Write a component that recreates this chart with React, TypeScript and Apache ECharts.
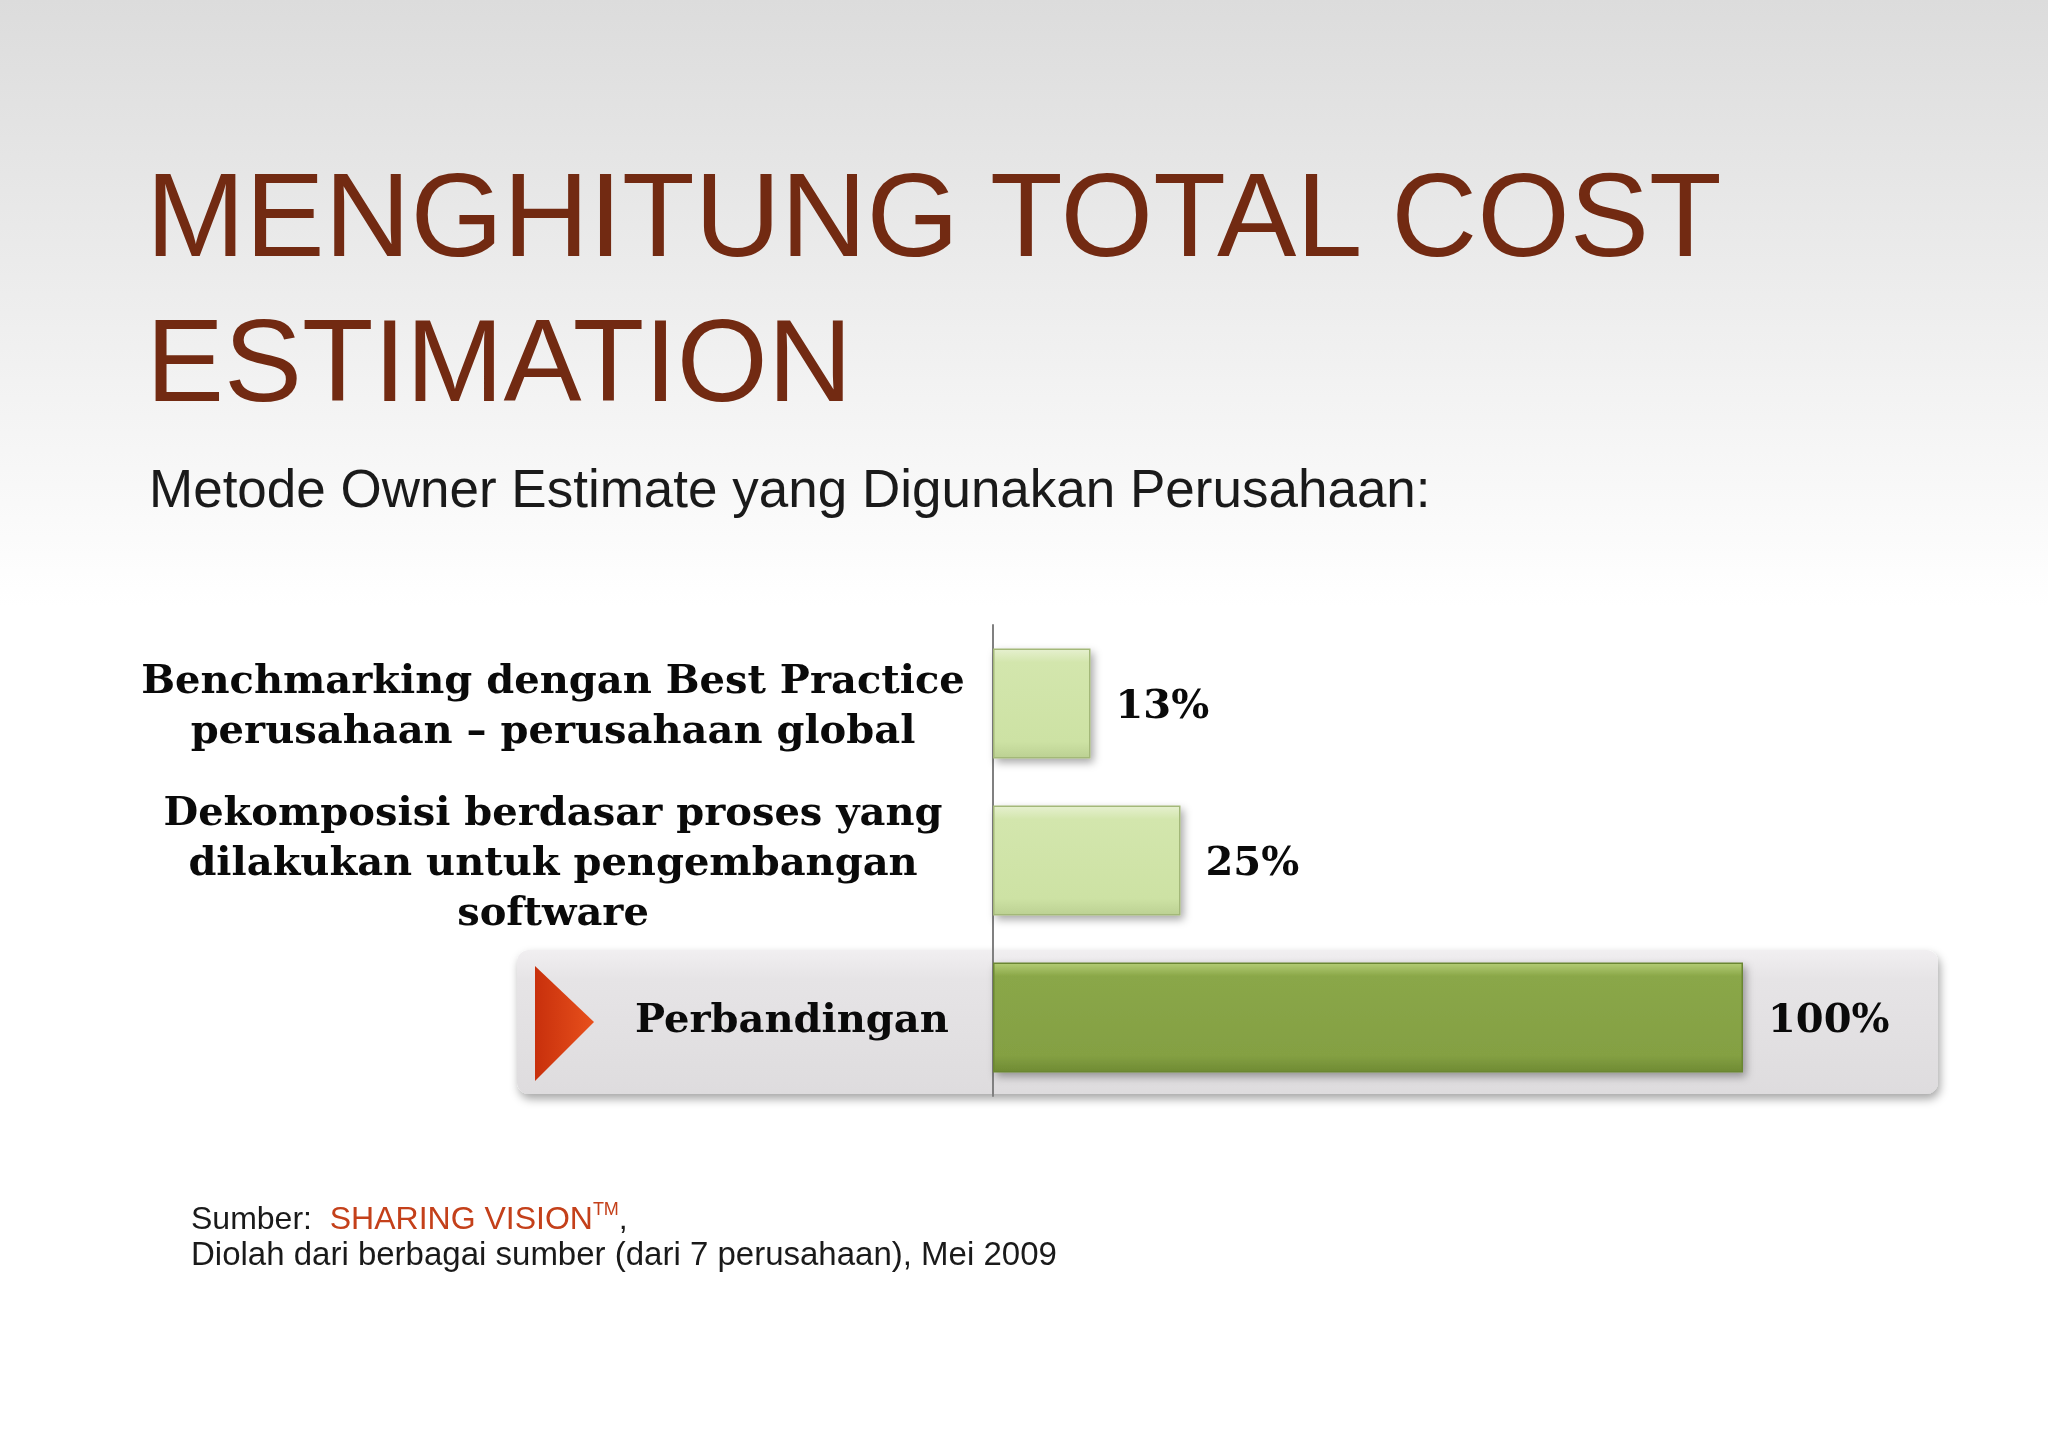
import React, { useEffect, useRef } from "react";
import * as echarts from "echarts";

const categories = [
  "Benchmarking dengan Best Practice\nperusahaan – perusahaan global",
  "Dekomposisi berdasar proses yang\ndilakukan untuk pengembangan\nsoftware",
  "Perbandingan",
];
const values = [13, 25, 100];
const highlighted = [false, false, true];
const titleLines = ["MENGHITUNG TOTAL COST", "ESTIMATION"];
const subtitle = "Metode Owner Estimate yang Digunakan Perusahaan:";
const sourceLabel = "Sumber:  ";
const sourceName = "SHARING VISION";
const sourceNote = "Diolah dari berbagai sumber (dari 7 perusahaan), Mei 2009";

const SERIF = "'DejaVu Serif', 'Liberation Serif', serif";
const SANS = "'Liberation Sans', Arial, sans-serif";

const lightFill = new echarts.graphic.LinearGradient(0, 0, 0, 1, [
  { offset: 0, color: "#e6f0cf" },
  { offset: 0.12, color: "#d3e6ad" },
  { offset: 0.85, color: "#cde2a4" },
  { offset: 1, color: "#bcd193" },
]);
const darkFill = new echarts.graphic.LinearGradient(0, 0, 0, 1, [
  { offset: 0, color: "#b3cc74" },
  { offset: 0.12, color: "#8aa748" },
  { offset: 0.85, color: "#84a043" },
  { offset: 1, color: "#6f8b33" },
]);

export default function App() {
  const ref = useRef<HTMLDivElement>(null);
  useEffect(() => {
    if (!ref.current) return;
    const chart = echarts.init(ref.current, undefined, { renderer: "svg" });
    const yData = categories.map((c, i) =>
      highlighted[i]
        ? { value: c, textStyle: { align: "left", padding: [0, 0, 0, 82] } }
        : c
    );
    const seriesData = values.map((v, i) => ({
      value: v,
      itemStyle: {
        color: highlighted[i] ? darkFill : lightFill,
        borderColor: highlighted[i] ? "#6a8630" : "#a3b879",
        borderWidth: 1.5,
        shadowBlur: 8,
        shadowOffsetX: 3,
        shadowOffsetY: 4,
        shadowColor: "rgba(0,0,0,0.35)",
      },
    }));
    chart.setOption({
      animation: false,
      grid: { left: 993, top: 625, width: 750, height: 471, containLabel: false },
      xAxis: { type: "value", min: 0, max: 100, show: false },
      yAxis: {
        type: "category",
        inverse: true,
        data: yData,
        axisLine: { show: true, lineStyle: { color: "#808080", width: 2 } },
        axisTick: { show: false },
        splitLine: { show: false },
        axisLabel: {
          margin: 440,
          align: "center",
          fontFamily: SERIF,
          fontWeight: "bold",
          fontSize: 40,
          lineHeight: 50,
          color: "#0a0a0a",
        },
      },
      series: [
        {
          type: "bar",
          data: seriesData,
          barWidth: 110,
          z: 3,
          label: {
            show: true,
            position: "right",
            distance: 25,
            formatter: "{c}%",
            fontFamily: SERIF,
            fontWeight: "bold",
            fontSize: 40,
            color: "#0a0a0a",
          },
        },
      ],
      graphic: [
        {
          type: "rect",
          z: -10,
          shape: { x: 0, y: 0, width: 2048, height: 1444 },
          style: {
            fill: new echarts.graphic.LinearGradient(0, 0, 0, 1, [
              { offset: 0, color: "#dcdcdc" },
              { offset: 0.42, color: "#ffffff" },
              { offset: 1, color: "#ffffff" },
            ]),
          },
        },
        {
          type: "rect",
          z: -5,
          shape: { x: 517, y: 950, width: 1421, height: 144, r: 12 },
          style: {
            fill: new echarts.graphic.LinearGradient(0, 0, 0, 1, [
              { offset: 0, color: "#f1eff1" },
              { offset: 0.2, color: "#e6e4e6" },
              { offset: 1, color: "#dedcde" },
            ]),
            shadowBlur: 10,
            shadowOffsetX: 2,
            shadowOffsetY: 5,
            shadowColor: "rgba(0,0,0,0.35)",
          },
        },
        {
          type: "polygon",
          z: -4,
          shape: { points: [[535, 966], [594, 1022], [535, 1081]] },
          style: {
            fill: new echarts.graphic.LinearGradient(0, 0, 1, 0, [
              { offset: 0, color: "#c8300c" },
              { offset: 1, color: "#e8501c" },
            ]),
          },
        },
        {
          type: "text",
          x: 146,
          y: 214,
          style: {
            text: titleLines[0],
            fontFamily: SANS,
            fontSize: 119,
            fill: "#722a12",
            verticalAlign: "middle",
          },
        },
        {
          type: "text",
          x: 146,
          y: 360,
          style: {
            text: titleLines[1],
            fontFamily: SANS,
            fontSize: 117,
            fill: "#722a12",
            verticalAlign: "middle",
          },
        },
        {
          type: "text",
          x: 149,
          y: 488,
          style: {
            text: subtitle,
            fontFamily: SANS,
            fontSize: 53,
            fill: "#1a1a1a",
            verticalAlign: "middle",
          },
        },
        {
          type: "text",
          x: 191,
          y: 1218,
          style: {
            text: `{a|${sourceLabel}}{b|${sourceName}}{s|TM}{a|,}`,
            verticalAlign: "middle",
            rich: {
              a: { fontFamily: SANS, fontSize: 32, fill: "#1a1a1a", lineHeight: 36 },
              b: { fontFamily: SANS, fontSize: 32, fill: "#c4401a", lineHeight: 36 },
              s: { fontFamily: SANS, fontSize: 18, fill: "#c4401a", lineHeight: 36, verticalAlign: "top" },
            },
          },
        },
        {
          type: "text",
          x: 191,
          y: 1253,
          style: {
            text: sourceNote,
            fontFamily: SANS,
            fontSize: 33,
            fill: "#1a1a1a",
            verticalAlign: "middle",
          },
        },
      ],
    });
    return () => chart.dispose();
  }, []);
  return (
    <div
      ref={ref}
      style={{ position: "fixed", left: 0, top: 0, width: 2048, height: 1444 }}
    />
  );
}
